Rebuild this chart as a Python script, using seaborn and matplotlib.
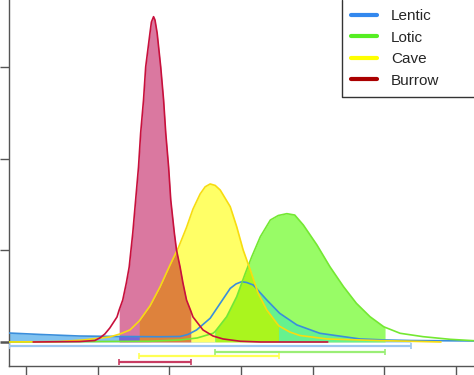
import numpy as np
import matplotlib.pyplot as plt
from matplotlib.lines import Line2D
from matplotlib.patches import Rectangle
import seaborn as sns

# posterior densities (tick units on both axes)
lentic_x = np.array([-0.24, 0.20, 0.75, 1.31, 1.87, 2.15, 2.26, 2.38, 2.57, 2.71, 2.85, 2.93, 3.01,
                     3.08, 3.17, 3.36, 3.54, 3.78, 4.10, 4.66, 5.01, 5.37, 6.25])
lentic_y = np.array([0.098, 0.082, 0.065, 0.060, 0.057, 0.060, 0.082, 0.131, 0.259, 0.422, 0.585, 0.633, 0.658,
                     0.649, 0.622, 0.458, 0.313, 0.186, 0.095, 0.033, 0.022, 0.016, 0.011])

lotic_x = np.array([-0.24, 1.73, 2.15, 2.39, 2.61, 2.64, 2.80, 2.94, 3.06, 3.15, 3.27, 3.41, 3.52, 3.64,
                    3.75, 3.87, 4.06, 4.24, 4.43, 4.61, 4.80, 4.99, 5.01, 5.22, 5.54, 5.92, 6.25])
lotic_y = np.array([0, 0.008, 0.022, 0.044, 0.095, 0.115, 0.276, 0.494, 0.749, 0.930, 1.149, 1.331, 1.380, 1.400,
                    1.385, 1.276, 1.058, 0.822, 0.604, 0.422, 0.276, 0.167, 0.160, 0.095, 0.058, 0.029, 0.014])

cave_x = np.array([-0.24, 0.47, 0.80, 1.17, 1.31, 1.45, 1.58, 1.73, 1.87, 2.01, 2.13, 2.24, 2.33, 2.43, 2.50,
                   2.57, 2.64, 2.71, 2.85, 2.94, 3.03, 3.13, 3.24, 3.36, 3.50, 3.53, 3.68, 3.82, 4.20, 4.90, 5.79])
cave_y = np.array([0, 0.005, 0.022, 0.055, 0.087, 0.131, 0.229, 0.393, 0.600, 0.840, 1.036, 1.250, 1.450, 1.615, 1.693,
                   1.724, 1.708, 1.658, 1.476, 1.258, 1.004, 0.785, 0.531, 0.349, 0.204, 0.175, 0.109, 0.071, 0.033, 0.016, 0])

burrow_x = np.array([0.10, 0.75, 0.96, 1.03, 1.10, 1.17, 1.27, 1.30, 1.35, 1.40, 1.44, 1.49, 1.53, 1.57, 1.60,
                     1.64, 1.67, 1.73, 1.75, 1.78, 1.80, 1.83, 1.88, 1.92, 1.95, 1.99, 2.02, 2.07, 2.10, 2.15,
                     2.19, 2.24, 2.30, 2.33, 2.47, 2.61, 2.75, 2.99, 3.27, 4.21])
burrow_y = np.array([0, 0.005, 0.016, 0.044, 0.087, 0.153, 0.273, 0.349, 0.458, 0.644, 0.818, 1.189, 1.549, 1.909, 2.280,
                     2.640, 3.000, 3.371, 3.490, 3.549, 3.513, 3.371, 3.000, 2.640, 2.280, 1.909, 1.549, 1.189, 1.004, 0.818,
                     0.644, 0.458, 0.338, 0.273, 0.131, 0.065, 0.033, 0.008, 0, 0])

# 95% HPD intervals
labels = ["Lentic", "Lotic", "Cave", "Burrow"]
hpd_lo = [-0.24, 2.64, 1.58, 1.30]
hpd_hi = [5.37, 5.01, 3.53, 2.30]

sns.set_style("ticks")
plt.rcParams['font.family'] = ['Liberation Sans', 'DejaVu Sans']

fig = plt.figure(figsize=(4.74, 3.75), dpi=100)
ax = fig.add_axes([9 / 474, 9 / 375, 465 / 474, 366 / 375])


def hpd_fill(x, y, lo, hi, color, z):
    m = (x >= lo) & (x <= hi)
    return ax.fill_between(x, y, where=m, color=color, lw=0, zorder=z)


f_blue = hpd_fill(lentic_x, lentic_y, hpd_lo[0], hpd_hi[0], "#80c2f0", 1)
f_green = hpd_fill(lotic_x, lotic_y, hpd_lo[1], hpd_hi[1], "#98fc66", 2)
f_yellow = hpd_fill(cave_x, cave_y, hpd_lo[2], hpd_hi[2], "#ffff66", 3)
f_pink = hpd_fill(burrow_x, burrow_y, hpd_lo[3], hpd_hi[3], "#da78a0", 4)

# overlapping parts get their own mixed colour
ov = hpd_fill(lentic_x, lentic_y, hpd_lo[0], hpd_hi[0], "#66f28e", 5)
ov.set_clip_path(f_green.get_paths()[0], ax.transData)
ov = hpd_fill(lentic_x, lentic_y, hpd_lo[0], hpd_hi[0], "#7864d8", 5)
ov.set_clip_path(f_pink.get_paths()[0], ax.transData)
ov = hpd_fill(lotic_x, lotic_y, hpd_lo[1], hpd_hi[1], "#aaf51e", 6)
ov.set_clip_path(f_yellow.get_paths()[0], ax.transData)
ov = hpd_fill(cave_x, cave_y, hpd_lo[2], hpd_hi[2], "#de823c", 7)
ov.set_clip_path(f_pink.get_paths()[0], ax.transData)

line_cols = ["#3a8edb", "#74e832", "#f7dc10", "#c8103c"]
curves = [(lentic_x, lentic_y), (lotic_x, lotic_y), (cave_x, cave_y), (burrow_x, burrow_y)]
for (cx, cy), c in zip(curves, line_cols):
    sns.lineplot(x=cx, y=cy, ax=ax, color=c, lw=1.2, sort=False, estimator=None, zorder=10)

# HPD bars under the curves
bar_cols = ["#9cc6f0", "#9aee76", "#ffff55", "#c83c62"]
bar_y = [-0.044, -0.104, -0.158, -0.213]
for lo, hi, yb, c in zip(hpd_lo, hpd_hi, bar_y, bar_cols):
    ax.errorbar((lo + hi) / 2, yb, xerr=(hi - lo) / 2, fmt="none", ecolor=c,
                elinewidth=1.6, capsize=2, capthick=1.2, zorder=10)

ax.set_xlim(-0.237, 6.251)
ax.set_ylim(-0.262, 3.731)
ax.set_xticks(range(7))
ax.set_yticks(range(4))
ax.set_xticklabels([])
ax.set_yticklabels([])
ax.tick_params(length=6.5, width=1.0, color="#555555")
for s in ["top", "right"]:
    ax.spines[s].set_visible(False)
for s in ["left", "bottom"]:
    ax.spines[s].set_color("#555555")
    ax.spines[s].set_linewidth(1.0)
t0 = ax.yaxis.get_major_ticks()[0].tick1line
t0.set_color("black")
t0.set_markeredgewidth(1.8)

# legend box runs up to the top/right edge of the picture: only left and bottom sides show
ax.add_patch(Rectangle((0.716, 0.735), 0.284, 0.265, transform=ax.transAxes, facecolor="white",
                       lw=0, zorder=19))
ax.plot([0.716, 0.716, 1.0], [1.0, 0.735, 0.735], transform=ax.transAxes, color="#333333",
        lw=1.0, clip_on=False, zorder=19)
leg_cols = ["#3388ee", "#55ee22", "#ffff00", "#aa0000"]
handles = [Line2D([], [], color=c, lw=3) for c in leg_cols]
leg = ax.legend(handles, labels, loc="lower left", bbox_to_anchor=(0.716, 0.735),
                fontsize=11, frameon=False, handlelength=1.7, handletextpad=0.9,
                labelspacing=0.5, borderpad=0.6, borderaxespad=0)
leg.set_zorder(20)

plt.savefig("out.png", dpi=100)
plt.close()
